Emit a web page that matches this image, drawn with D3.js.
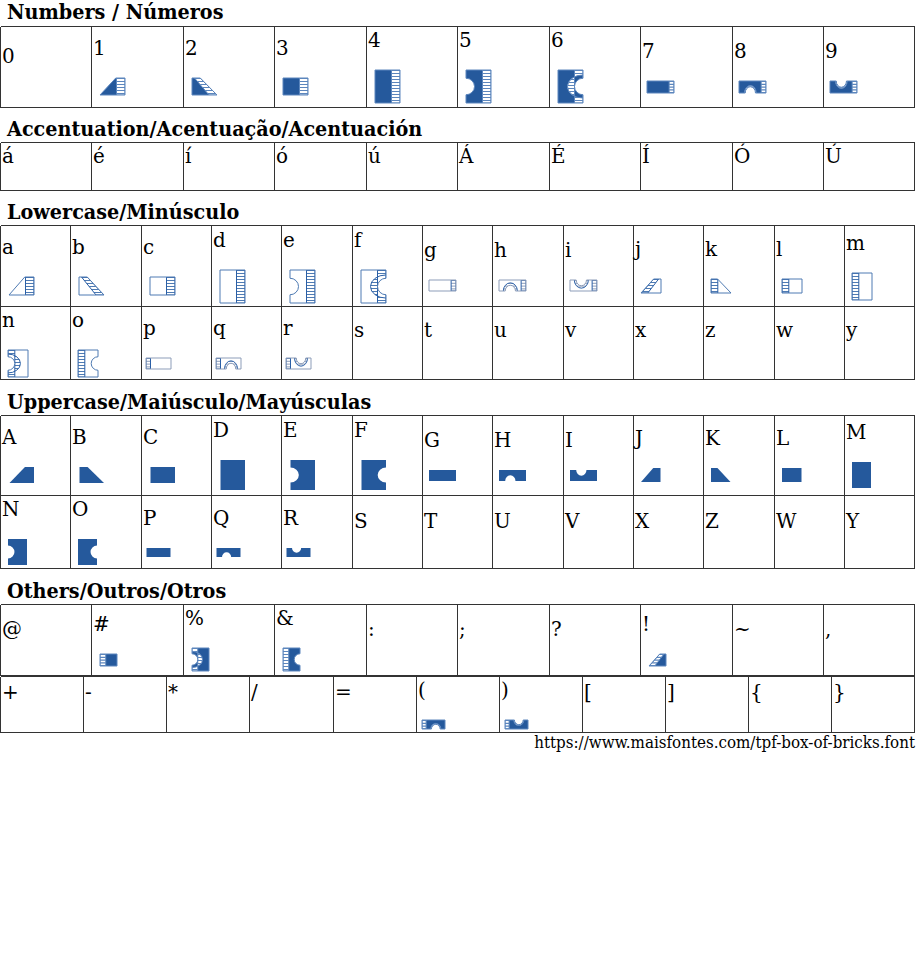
<!DOCTYPE html>
<html><head><meta charset="utf-8">
<script src="https://d3js.org/d3.v7.min.js"></script>
<style>html,body{margin:0;background:#fff}svg{display:block}text{font-family:"DejaVu Serif",serif;fill:#000}</style>
</head><body><svg id="c" width="916" height="975"></svg>
<script>
// ---- data: characters and the glyph drawn under each ----
const numberChars=["0","1","2","3","4","5","6","7","8","9"];
const numberShapes=[null,"wedgeUp","wedgeDown","rect","rect","notchL","notchR","rect","notchB","notchT"];
const numberBands=[null,"R","diag","R","R","R","Rc","R","Rc","Rc"];
const numberSizes=[null,"m","m","m","t","t","t","s","s","s"];
const accentChars=["á","é","í","ó","ú","Á","É","Í","Ó","Ú"];
const lowerChars1=["a","b","c","d","e","f","g","h","i","j","k","l","m"];
const lowerChars2=["n","o","p","q","r","s","t","u","v","x","z","w","y"];
const upperChars1=["A","B","C","D","E","F","G","H","I","J","K","L","M"];
const upperChars2=["N","O","P","Q","R","S","T","U","V","X","Z","W","Y"];
const alphaShapes1=["wedgeUp","wedgeDown","rect","rect","notchL","notchR","rect","notchB","notchT","wedgeUp","wedgeDown","rect","rect"];
const alphaBands1=["R","diag","R","R","R","Rc","R","Rc","Rc","diag","L","L","L"];
const alphaSizes1=["m","m","m","t","t","t","s","s","s","n","n","n","l"];
const alphaShapes2=["notchL","notchR","rect","notchB","notchT"];
const alphaBands2=["Lc","L","L","Lc","Lc"];
const alphaSizes2=["l","l","s","s","s"];
const otherChars1=["@","#","%","&",":",";","?","!","~",","];
const otherShapes1=[null,"rect","notchL","notchR",null,null,null,"wedgeUp",null,null];
const otherBands1=[null,"L","Lc","L",null,null,null,"diag",null,null];
const otherSizes1=[null,"s","t","t",null,null,null,"s",null,null];
const otherChars2=["+","-","*","/","=","(",")","[","]","{","}"];
const otherShapes2=[null,null,null,null,null,"notchB","notchT",null,null,null,null];
const otherBands2=[null,null,null,null,null,"Lc","Lc",null,null,null,null];
const otherSizes2=[null,null,null,null,null,"s","s",null,null,null,null];
const headingTexts=["Numbers / Números","Accentuation/Acentuação/Acentuación","Lowercase/Minúsculo","Uppercase/Maiúsculo/Mayúsculas","Others/Outros/Otros"];
const sourceText="https://www.maisfontes.com/tpf-box-of-bricks.font";

// ---- layout ----
const COLOR={ink:"#25599c",line:"#333",band:"#5c86bd",edge:"#4f7bb3",grey:"#8d9db9",dark:"#2a5fa6"};
const HEAD_Y=[19,136,219,409,598];
const sizes={
 num:{m:[9,52,25,17],t:[9,44,25,33],s:[7,55,27,12]},
 low1:{m:[9,52,25,18],t:[9,45,25,33],s:[7,55,27,11],n:[8,54,20,14],l:[8,48,20,27]},
 low2:{l:[8,44,20,27],s:[5,52,25,11]},
 up1:{m:[9.5,52,24.5,16],t:[9.5,45,24.5,30],s:[7,55,27,11],n:[8,53,19.5,14],l:[8,47,19,26]},
 up2:{l:[8,44,19,26],s:[5.5,53,24,9]},
 oth1:{s:[9,50,17,12],t:[9,44,17,23]},
 oth2:{s:[6,44,23,9]}
};
const rows=[
 {top:26,bottom:107,empty:63,chars:numberChars,shapes:numberShapes,bands:numberBands,sz:numberSizes,set:"num",look:"filled"},
 {top:142,bottom:190,empty:163,chars:accentChars,shapes:[],bands:[],sz:[],set:"num",look:"filled"},
 {top:225,bottom:306,empty:260,chars:lowerChars1,shapes:alphaShapes1,bands:alphaBands1,sz:alphaSizes1,set:"low1",look:"outline"},
 {top:306,bottom:379,empty:337,chars:lowerChars2,shapes:alphaShapes2,bands:alphaBands2,sz:alphaSizes2,set:"low2",look:"outline"},
 {top:415,bottom:495,empty:450,chars:upperChars1,shapes:alphaShapes1,bands:[],sz:alphaSizes1,set:"up1",look:"solid"},
 {top:495,bottom:568,empty:527.5,chars:upperChars2,shapes:alphaShapes2,bands:[],sz:alphaSizes2,set:"up2",look:"solid"},
 {top:604,bottom:675,empty:636,chars:otherChars1,shapes:otherShapes1,bands:otherBands1,sz:otherSizes1,set:"oth1",look:"filled"},
 {top:676,bottom:732,empty:699,chars:otherChars2,shapes:otherShapes2,bands:otherBands2,sz:otherSizes2,set:"oth2",look:"filled"}
];
const svg=d3.select("#c");

// the reference's type sits a little narrower than its height
const squeeze=(x,y,k)=>`translate(${x},${y}) scale(${k},1)`;
svg.selectAll("text.head").data(headingTexts).join("text").attr("class","head")
 .attr("transform",(d,i)=>squeeze(7,HEAD_Y[i],.96)).attr("font-size",20).attr("font-weight","bold").text(d=>d);
svg.append("text").attr("transform",squeeze(915,748,.945)).attr("text-anchor","end").attr("font-size",16).text(sourceText);

function notch(shape,w,h,leftBand){
 if(shape==="notchL") return {cx:0,cy:h/2,rx:.34*w,ry:.25*h};
 if(shape==="notchR") return {cx:w,cy:h/2,rx:.34*w,ry:.25*h};
 const cx=(leftBand?.6:.42)*w;
 return {cx,cy:shape==="notchB"?h:0,rx:.19*w,ry:.52*h};
}
// outline of a glyph in a w x h box
function outline(shape,w,h,leftBand){
 const p=d3.path();
 if(shape==="wedgeUp"){p.moveTo(0,h);p.lineTo(.63*w,0);p.lineTo(w,0);p.lineTo(w,h);p.closePath();return p.toString();}
 if(shape==="wedgeDown"){p.moveTo(0,0);p.lineTo(.33*w,0);p.lineTo(w,h);p.lineTo(0,h);p.closePath();return p.toString();}
 if(shape==="rect"){p.rect(0,0,w,h);return p.toString();}
 const n=notch(shape,w,h,leftBand);
 let s;
 if(shape==="notchL") s=`M0,0H${w}V${h}H0V${n.cy+n.ry}A${n.rx},${n.ry} 0 0 0 0,${n.cy-n.ry}Z`;
 if(shape==="notchR") s=`M0,0H${w}V${n.cy-n.ry}A${n.rx},${n.ry} 0 0 0 ${w},${n.cy+n.ry}V${h}H0Z`;
 if(shape==="notchB") s=`M0,0H${w}V${h}H${n.cx+n.rx}A${n.rx},${n.ry} 0 0 0 ${n.cx-n.rx},${h}H0Z`;
 if(shape==="notchT") s=`M0,0H${n.cx-n.rx}A${n.rx},${n.ry} 0 0 0 ${n.cx+n.rx},0H${w}V${h}H0Z`;
 return s;
}
function bandArea(shape,band,w,h,filled){
 const left=band[0]==="L";
 if(band==="diag"){
  return shape==="wedgeUp"
   ? `M${.02*w},${h}L${.63*w},0H${.88*w}L${.34*w},${h}Z`
   : `M${.1*w},0H${.33*w}L${w},${h}H${.68*w}Z`;
 }
 const bw=(h<=12&&w>20?.18:.34)*w;
 let s=left?`M0,0H${bw}V${h}H0Z`:`M${w-bw},0H${w}V${h}H${w-bw}Z`;
 if(band.endsWith("c")){
  const n=notch(shape,w,h,left);
  const side=shape==="notchL"||shape==="notchR";
  const rx=n.rx+(side?.28*w:(filled?.03:.07)*w), ry=n.ry+(side?.1*h:(filled?.1:.22)*h);
  s+=`M${n.cx-rx},${n.cy}A${rx},${ry} 0 1 0 ${n.cx+rx},${n.cy}A${rx},${ry} 0 1 0 ${n.cx-rx},${n.cy}Z`;
 }
 return s;
}

// build one record per table cell
const cells=[];
rows.forEach((r,ri)=>{
 const x=d3.scaleLinear().domain([0,r.chars.length]).rangeRound([0,914.49]);
 r.x=x;
 r.chars.forEach((c,i)=>{
  const shape=r.shapes[i]||null, key=r.sz[i];
  const box=shape?sizes[r.set][key]:null;
  cells.push({id:"g"+ri+"_"+i,c,ri,i,r,shape,band:r.bands[i]||null,look:r.look,left:i===0?0:x(i),box});
 });
});

// grid
const grid=svg.append("g").attr("fill","none").attr("stroke",COLOR.line).attr("stroke-width",1).attr("shape-rendering","crispEdges");
rows.forEach(r=>{
 grid.selectAll(null).data(d3.range(r.chars.length+1)).join("line")
  .attr("x1",i=>i===0?.5:r.x(i)+.5).attr("x2",i=>i===0?.5:r.x(i)+.5)
  .attr("y1",r.top+.5).attr("y2",r.bottom+.5);
 grid.selectAll(null).data([r.top,r.bottom]).join("line")
  .attr("x1",.5).attr("x2",914.5).attr("y1",d=>d+.5).attr("y2",d=>d+.5);
});

// labels
svg.selectAll("text.lab").data(cells).join("text").attr("class","lab")
 .attr("transform",d=>squeeze(d.left+2,d.box?d.r.top+d.box[1]-23.5:d.r.empty,.95))
 .attr("font-size",21).text(d=>d.c);

// glyphs
const defs=svg.append("defs");
const gl=svg.selectAll("g.gl").data(cells.filter(d=>d.shape)).join("g").attr("class","gl")
 .attr("transform",d=>`translate(${d.left+d.box[0]},${d.r.top+d.box[1]})`);
gl.each(function(d){
 const [,,w,h]=d.box, g=d3.select(this);
 const left=d.band&&d.band[0]==="L";
 const o=outline(d.shape,w,h,left);
 if(d.look==="solid"){g.append("path").attr("d",o).attr("fill",COLOR.ink);return;}
 const thin=h<=11;
 const filled=d.look==="filled";
 const a=bandArea(d.shape,d.band,w,h,filled);
 defs.append("clipPath").attr("id",d.id).append("path").attr("d",o);
 defs.append("clipPath").attr("id",d.id+"b").append("path").attr("d",a);
 const edge=thin?COLOR.grey:COLOR.edge;
 g.append("path").attr("d",o).attr("fill",filled?COLOR.ink:"#fff");
 const inner=g.append("g").attr("clip-path",`url(#${d.id})`);
 const bandG=inner.append("g").attr("clip-path",`url(#${d.id}b)`);
 if(filled) bandG.append("rect").attr("width",w).attr("height",h).attr("fill","#fff");
 bandG.selectAll("line").data(d3.range(0,h+1,h<=12?2.8:3)).join("line")
  .attr("x1",0).attr("x2",w).attr("y1",y=>y+.5).attr("y2",y=>y+.5)
  .attr("stroke",filled?COLOR.band:edge).attr("stroke-width",filled?1.2:1);
 inner.append("path").attr("d",a).attr("fill","none").attr("stroke",filled?COLOR.band:COLOR.dark).attr("stroke-width",1);
 g.append("path").attr("d",o).attr("fill","none").attr("stroke",filled?COLOR.band:edge).attr("stroke-width",1);
});
</script></body></html>
